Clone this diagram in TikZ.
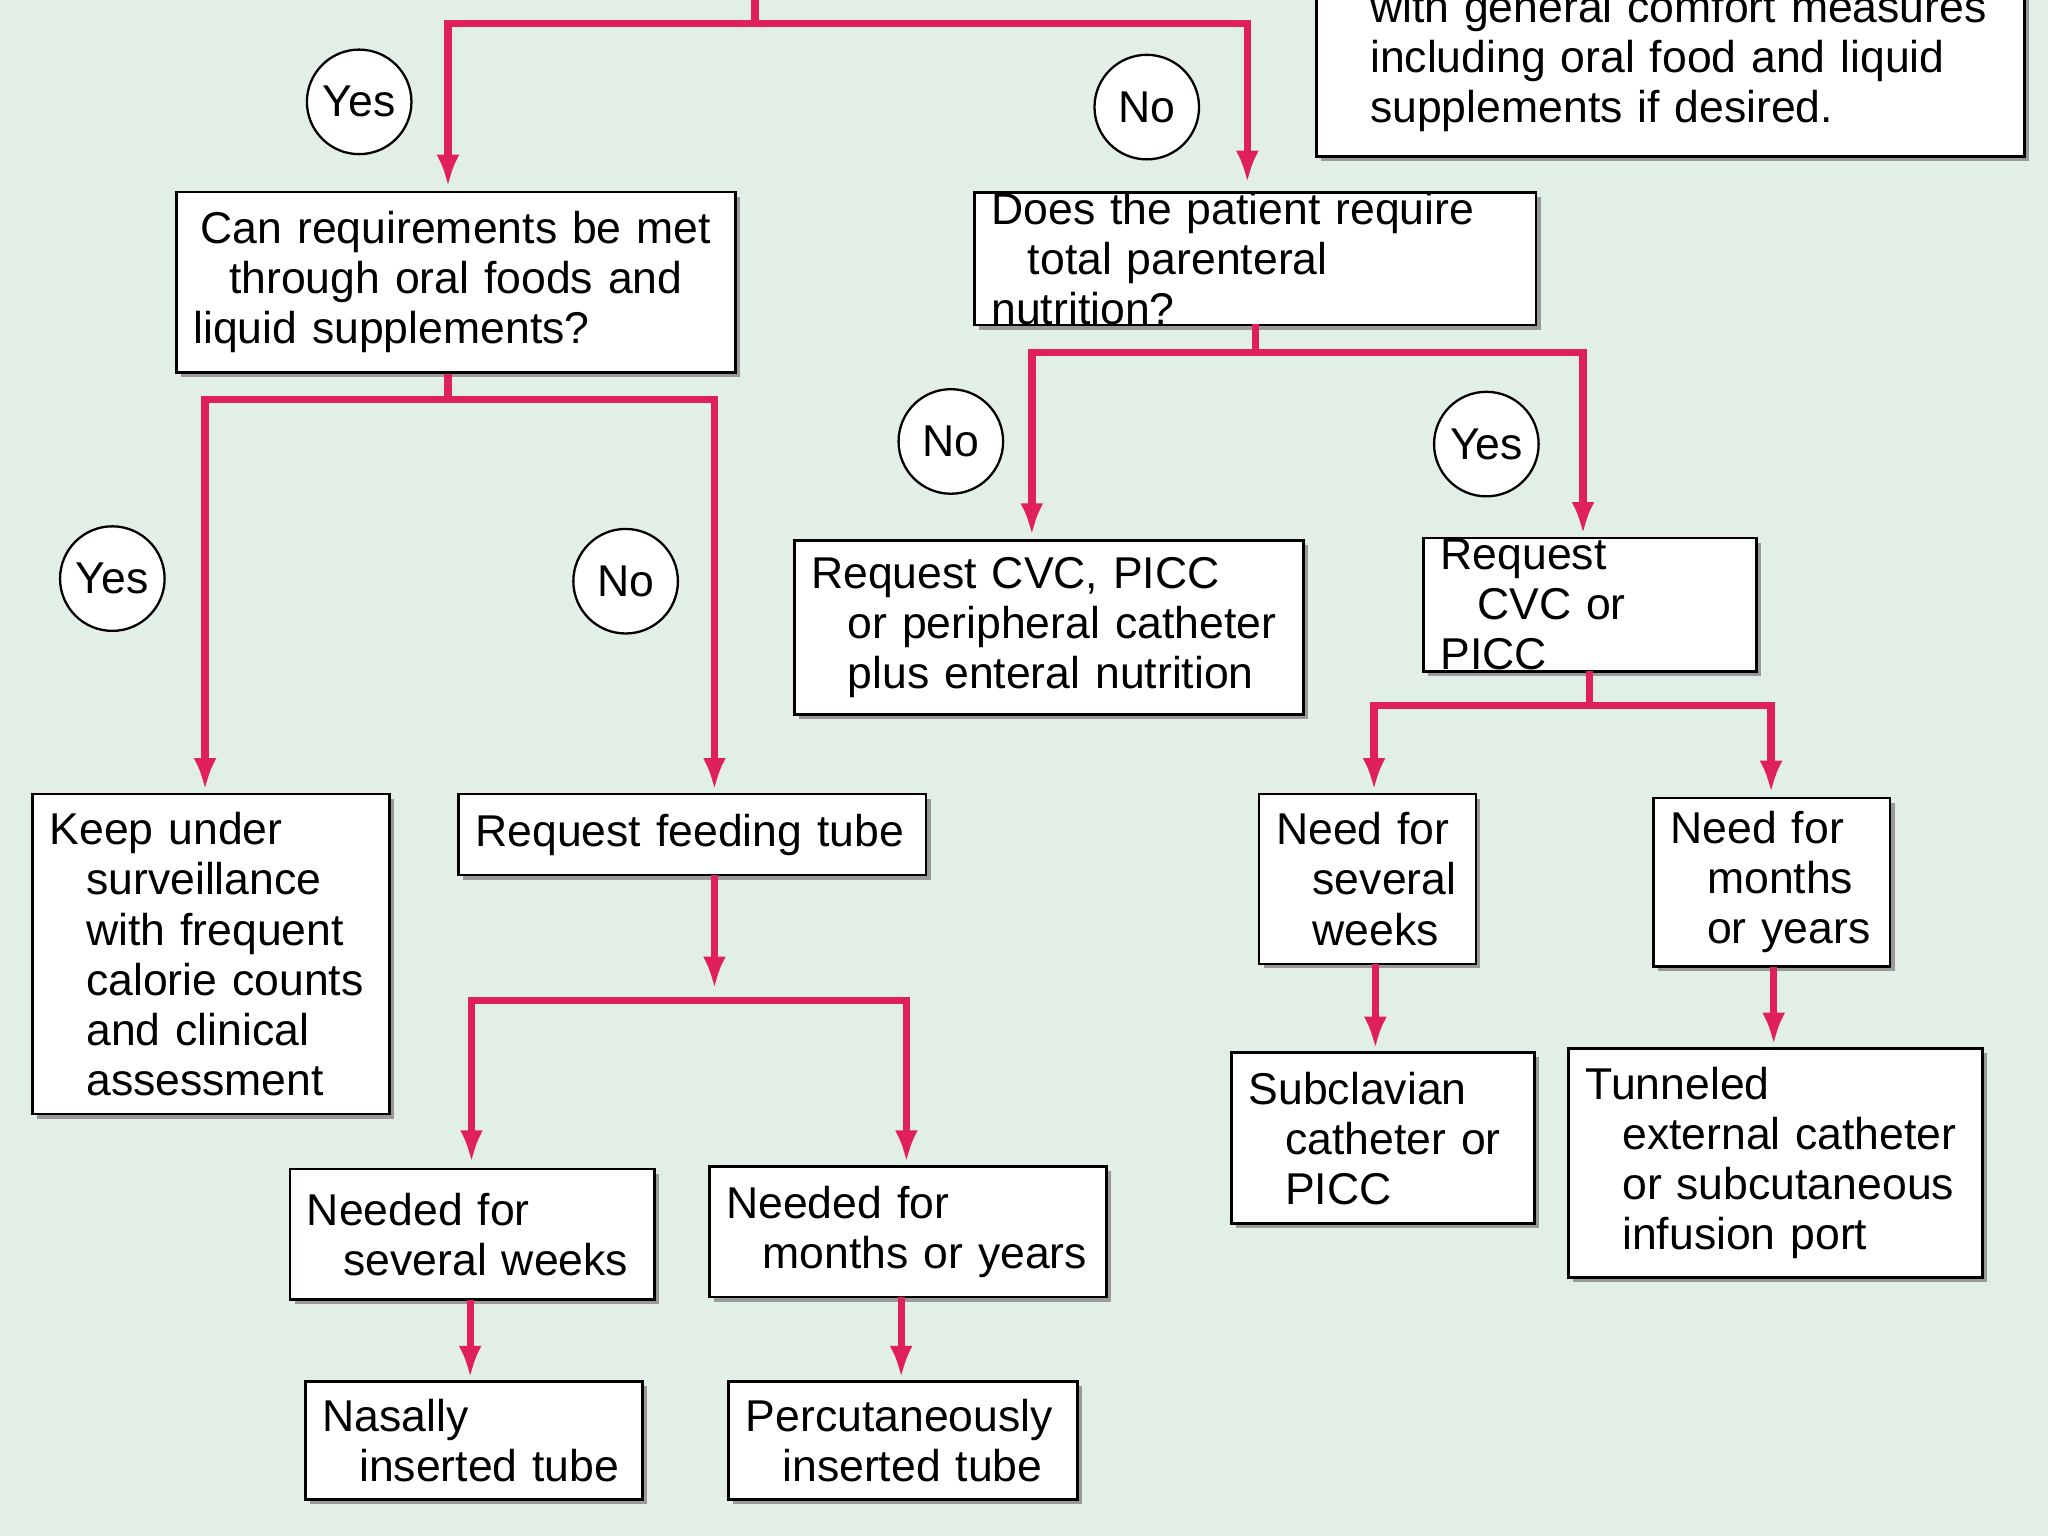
\documentclass[tikz,border=0pt]{standalone}
\usepackage{fontspec}
\setmainfont{Liberation Sans}
\usetikzlibrary{shadows,arrows.meta}
\definecolor{bg}{HTML}{E2EFE6}
\definecolor{rd}{HTML}{E0205A}
\newcommand{\bx}[6]{%
  \node[box,minimum width={(#4-#2)*0.01cm},minimum height={(#5-#3)*0.01cm},
    text width={(#4-#2)*0.01cm-0.26cm}] (#1) at ({(#2+#4)/2},{(#3+#5)/2}) {#6};}
\newcommand{\ind}{\hspace*{0.28cm}}
\hyphenpenalty=10000
\exhyphenpenalty=10000
\begin{document}
\hyphenpenalty=10000
\exhyphenpenalty=10000
\begin{tikzpicture}[x=0.01cm,y=-0.01cm,
  box/.style={draw=black,line width=0.6pt,fill=white,align=left,inner sep=0pt,
    font=\fontsize{9.7}{10.9}\selectfont,
    drop shadow={shadow xshift=0.035cm,shadow yshift=-0.035cm,fill=gray!80,opacity=1}},
  ln/.style={draw=rd,line width=1.6pt},
  arr/.style={ln,-{Latex[length=7pt,width=5pt]}},
  yn/.style={circle,draw=black,fill=white,line width=0.5pt,minimum size=0.8cm,inner sep=0pt,font=\fontsize{9.7}{11}\selectfont}]
\useasboundingbox (0,0) rectangle (1568,1176);
\fill[bg] (0,0) rectangle (1568,1176);
\begin{scope}
\clip (0,0) rectangle (1568,1176);
\bx{top}{1008}{-40}{1550}{120}{\mbox{}\\\ind with general comfort measures\\\ind including oral food and liquid\\\ind supplements if desired.}
\end{scope}
\bx{b1}{135}{147}{563}{285}{\centering Can requirements be met\\through oral foods and\\liquid supplements?}
\bx{b2}{746}{148}{1176}{248}{Does the patient require\\\ind total parenteral nutrition?}
\bx{b3}{25}{608}{298}{853}{Keep under\\\ind surveillance\\\ind with frequent\\\ind calorie counts\\\ind and clinical\\\ind assessment}
\bx{b4}{351}{608}{709}{670}{Request feeding tube}
\bx{b5}{222}{895}{501}{995}{Needed for\\\ind several weeks}
\bx{b6}{543}{893}{847}{993}{Needed for\\\ind months or years}
\bx{b7}{234}{1058}{492}{1148}{Nasally\\\ind inserted tube}
\bx{b8}{558}{1058}{825}{1148}{Percutaneously\\\ind inserted tube}
\bx{b9}{608}{414}{998}{547}{Request CVC, PICC\\\ind or peripheral catheter\\\ind plus enteral nutrition}
\bx{b10}{1090}{412}{1345}{514}{Request\\\ind CVC or PICC}
\bx{b11}{964}{608}{1130}{738}{Need for\\\ind several\\\ind weeks}
\bx{b12}{1266}{611}{1447}{740}{Need for\\\ind months\\\ind or years}
\bx{b13}{943}{806}{1175}{937}{Subclavian\\\ind catheter or\\\ind PICC}
\bx{b14}{1201}{803}{1518}{978}{Tunneled\\\ind external catheter\\\ind or subcutaneous\\\ind infusion port}
% circles
\node[yn] (y1) at (275,78) {Yes};
\node[yn] (n1) at (878,82) {No};
\node[yn] (y2) at (86,443) {Yes};
\node[yn] (n2) at (479,445) {No};
\node[yn] (n3) at (728,338) {No};
\node[yn] (y3) at (1138,340) {Yes};
% connectors
\coordinate (s0) at (578,0); \coordinate (j0) at (578,18);
\draw[ln] (s0) -- (j0);
\draw[arr] (j0) -| (343,143);
\draw[arr] (j0) -| (955,140);
\coordinate (j1) at (343,306);
\draw[ln] (b1.south -| j1) -- (j1);
\draw[arr] (j1) -| (157,605);
\draw[arr] (j1) -| (547,605);
\coordinate (j2a) at (547,670); \coordinate (j2) at (547,766);
\draw[arr] (j2a) -- (547,757);
\draw[arr] (j2) -| (361,890);
\draw[arr] (j2) -| (694,890);
\draw[arr] (360,995) -- (360,1055);
\draw[arr] (690,993) -- (690,1055);
\coordinate (j3) at (961,270);
\draw[ln] (961,248) -- (j3);
\draw[arr] (j3) -| (790,410);
\draw[arr] (j3) -| (1212,409);
\coordinate (j4) at (1217,540);
\draw[ln] (1217,514) -- (j4);
\draw[arr] (j4) -| (1052,605);
\draw[arr] (j4) -| (1356,607);
\draw[arr] (1053,738) -- (1053,803);
\draw[arr] (1358,740) -- (1358,800);
\end{tikzpicture}
\end{document}
